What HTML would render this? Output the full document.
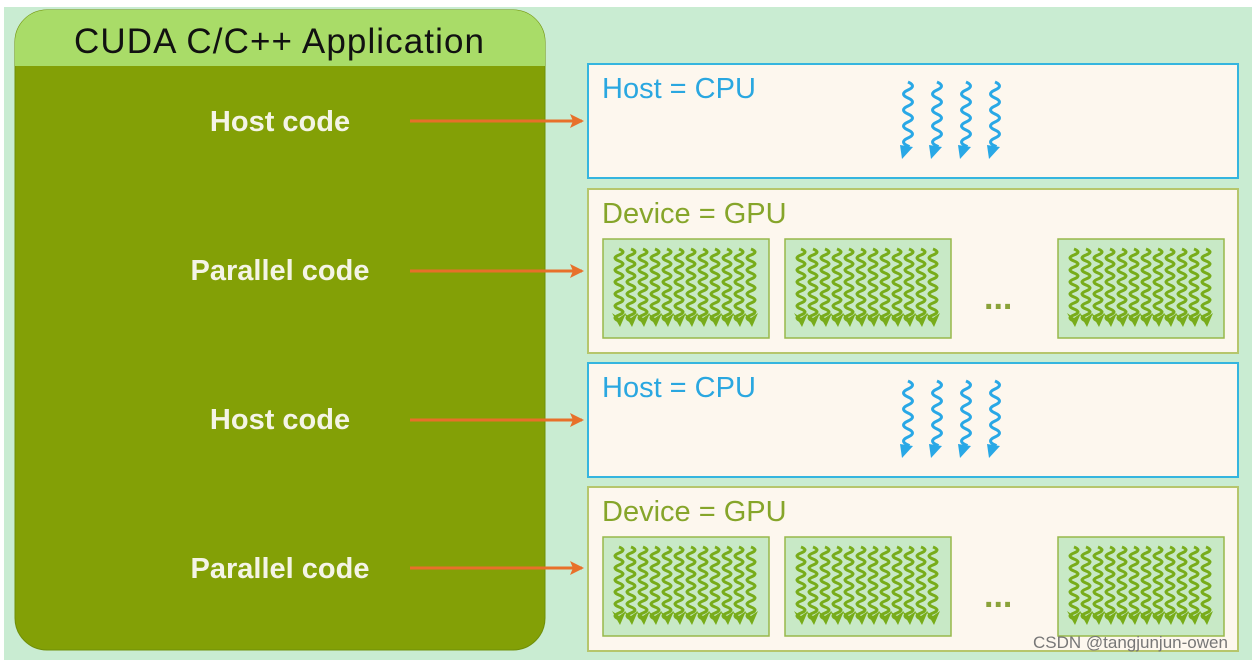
<!DOCTYPE html>
<html><head><meta charset="utf-8"><style>
html,body{margin:0;padding:0;background:#fff;}
svg{display:block;}
text{font-family:"Liberation Sans",sans-serif;}
</style></head><body>
<svg width="1260" height="663" viewBox="0 0 1260 663" xmlns="http://www.w3.org/2000/svg">
<defs>
<g id="bt">
<path d="M4,0 q9,4 0,8 q-9,4 0,8 q9,4 0,8 q-9,4 0,8 q9,4 0,8 q-9,4 0,8 q9,4 0,8 q-9,4 0,8 l-3,5" fill="none" stroke="#29a8e6" stroke-width="3"/>
<path d="M-4,63 l13,2 l-11,12 z" fill="#29a8e6"/>
</g>
<g id="gt">
<path d="M2,0 q8,3 0,6 q-8,3 0,6 q8,3 0,6 q-8,3 0,6 q8,3 0,6 q-8,3 0,6 q8,3 0,6 q-8,3 0,6 q8,3 0,6 q-8,3 0,6 q8,3 0,6 q-8,3 0,6" fill="none" stroke="#78ac1a" stroke-width="3"/>
<path d="M-5,64 l7,5 l7,-5 l-6,14 z" fill="#78ac1a"/>
</g>
<g id="tile">
<rect x="0" y="0" width="166" height="99" fill="#c8e9c6" stroke="#98b84a" stroke-width="1.5"/>
<use href="#gt" x="14" y="10"/><use href="#gt" x="26" y="10"/><use href="#gt" x="38" y="10"/><use href="#gt" x="50" y="10"/>
<use href="#gt" x="62" y="10"/><use href="#gt" x="74" y="10"/><use href="#gt" x="86" y="10"/><use href="#gt" x="98" y="10"/>
<use href="#gt" x="110" y="10"/><use href="#gt" x="122" y="10"/><use href="#gt" x="134" y="10"/><use href="#gt" x="146" y="10"/>
</g>
<g id="host">
<rect x="0" y="0" width="650" height="114" fill="#fdf7ee" stroke="#35b5df" stroke-width="2"/>
<text x="14" y="34" font-size="29" fill="#2aa7e0">Host = CPU</text>
<use href="#bt" x="316" y="18"/><use href="#bt" x="345" y="18"/><use href="#bt" x="374" y="18"/><use href="#bt" x="403" y="18"/>
</g>
<g id="dev">
<rect x="0" y="0" width="650" height="164" fill="#fdf7ee" stroke="#b6c66c" stroke-width="2"/>
<text x="14" y="34" font-size="29" fill="#86a52a">Device = GPU</text>
<use href="#tile" x="15" y="50"/><use href="#tile" x="197" y="50"/><use href="#tile" x="470" y="50"/>
<text x="396" y="120" font-size="34" font-weight="bold" fill="#8aa23a">...</text>
</g>
<marker id="ah" markerWidth="14" markerHeight="14" refX="12" refY="7" orient="auto" markerUnits="userSpaceOnUse"><path d="M0,0 L14,7 L0,14 L3,7 z" fill="#e8702a"/></marker>
</defs>
<rect x="4" y="7" width="1248" height="653" fill="#c9ecd2"/>
<rect x="15" y="10" width="530" height="640" rx="32" fill="#83a006" stroke="#6f8f08" stroke-width="1"/>
<path d="M15,66 V42 a32,32 0 0 1 32,-32 H513 a32,32 0 0 1 32,32 V66 z" fill="#a9dc68"/>
<text x="279" y="53" font-size="35" text-anchor="middle" fill="#111" textLength="410">CUDA C/C++ Application</text>
<g font-size="29" font-weight="bold" fill="#f4f4e6" text-anchor="middle">
<text x="280" y="131">Host code</text>
<text x="280" y="280">Parallel code</text>
<text x="280" y="429">Host code</text>
<text x="280" y="578">Parallel code</text>
</g>
<g stroke="#e8702a" stroke-width="3" marker-end="url(#ah)">
<line x1="410" y1="121" x2="582" y2="121"/>
<line x1="410" y1="271" x2="582" y2="271"/>
<line x1="410" y1="420" x2="582" y2="420"/>
<line x1="410" y1="568" x2="582" y2="568"/>
</g>
<use href="#host" x="588" y="64"/>
<use href="#dev" x="588" y="189"/>
<use href="#host" x="588" y="363"/>
<use href="#dev" x="588" y="487"/>
<text x="1033" y="648" font-size="17" fill="#777">CSDN @tangjunjun-owen</text>
</svg>
</body></html>
